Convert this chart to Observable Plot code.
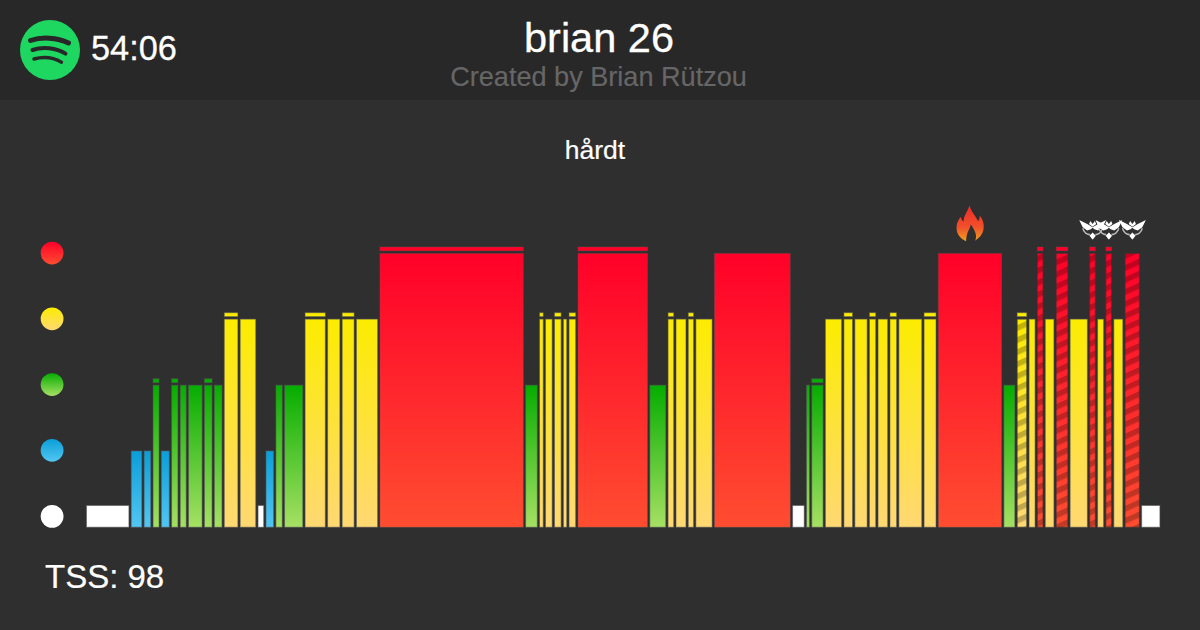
<!DOCTYPE html>
<html>
<head>
<meta charset="utf-8">
<script src="https://cdn.jsdelivr.net/npm/d3@7"></script>
<script src="https://cdn.jsdelivr.net/npm/@observablehq/plot@0.6"></script>
<style>
html,body{margin:0;padding:0;background:#2f2f2f;width:1200px;height:630px;overflow:hidden;font-family:"Liberation Sans",Arial,sans-serif;color:#fff}
#header{position:relative;height:100px;background:#282828;overflow:hidden}
#logo{position:absolute;left:20px;top:20px}
#time{position:absolute;left:91px;top:28px;font-size:34.3px;line-height:40px;-webkit-text-stroke:.3px #fff}
#title{position:absolute;left:0;width:1198px;text-align:center;top:14px;font-size:41.5px;line-height:48px;-webkit-text-stroke:.3px #fff}
#subtitle{position:absolute;left:0;width:1197px;text-align:center;top:61px;font-size:27.1px;line-height:32px;color:#666;-webkit-text-stroke:.2px #666}
#difficulty{height:100px;line-height:100px;text-align:center;font-size:26.5px;width:1190px;-webkit-text-stroke:.2px #fff}
#chart svg{display:block}
#tss{position:absolute;left:45px;top:558px;font-size:33px;line-height:38px;-webkit-text-stroke:.2px #fff}
</style>
</head>
<body>
<div id="header">
  <svg id="logo" width="60" height="60" viewBox="0 0 60 60">
    <circle cx="30" cy="30" r="30" fill="#1ed760"/>
    <g fill="none" stroke="#282828" stroke-linecap="round">
      <path d="M10.500 20.500C22 16.500 37 17.500 48.500 23" stroke-width="5"/>
      <path d="M12.500 30C23 26.500 36 27.800 45.500 33.600" stroke-width="4"/>
      <path d="M14 39C23 36.500 33.500 37.500 41.500 42.200" stroke-width="3.400"/>
    </g>
  </svg>
  <div id="time">54:06</div>
  <div id="title">brian 26</div>
  <div id="subtitle">Created by Brian Rützou</div>
</div>
<div id="difficulty">hårdt</div>
<div id="chart"></div>
<div id="tss">TSS: 98</div>
<script>
// Interval durations in seconds (54:06 in total)
const durations = [135,39,27,25,31,26,25,48,30,30,48,54,24,30,26,62,68,44,43,71,440,42,18,27,27,17,27,217,55,24,37,23,56,236,42,16,41,56,33,44,26,36,27,76,43,198,40,36,25,24,33,42,59,24,25,24,34,50,62];
// Training zone of each interval, 0 = white ... 4 = red
const zones = [0,1,1,2,1,2,2,2,2,2,3,3,0,1,2,2,3,3,3,3,4,2,3,3,3,3,3,4,2,3,3,3,3,4,0,2,2,3,3,3,3,3,3,3,3,4,2,3,3,4,3,4,3,4,3,4,3,4,0];
// Intervals with a marker cap
const capped = [3,5,8,10,16,18,20,22,24,26,27,29,31,36,38,40,42,44,47,49,51,53,55];
// Intervals with diagonal stripes
const striped = [47,49,51,53,55,57];
// Intervals with an icon above
const flames = [45];
const owls = [53,55,57];

const zoneNames = ["white","blue","green","yellow","red"];
const zoneTops = [0.345,1.175,2.175,3.18,4.18];
const zoneDots = [0.18,1.185,2.185,3.185,4.185];
const gradients = [["#ffffff","#ffffff"],["#0a9ed8","#52c6f2"],["#05ad00","#a6e063"],["#fcec00","#ffd873"],["#ff0029","#ff4d30"]];
const strokeOpacities = [0.55,0.55,0.55,0.55,0.35];

let clock = 0;
const bars = durations.map((d,i) => {
  const b = {i, start: clock, end: clock + d, zone: zones[i], top: zoneTops[zones[i]]};
  clock += d;
  return b;
});
const total = clock;
const capBars = capped.map(i => bars[i]);
const stripeBars = striped.map(i => bars[i]);
const mid = b => (b.start + b.end) / 2;

const flameSvg = `<svg xmlns="http://www.w3.org/2000/svg" viewBox="0 0 28 36"><defs><linearGradient id="f" x1="0" y1="0" x2="0" y2="1"><stop offset="0" stop-color="#ee2a2a"/><stop offset=".6" stop-color="#f0502a"/><stop offset="1" stop-color="#f0a020"/></linearGradient></defs><path fill="url(#f)" d="M13.500 0C15 7 20 11 22 16C23.500 14 23.800 12 23.500 10C27 14 28 19 27.500 23C27 30 22 33 19 35.500C21.500 31 19 25 14.500 19C14.500 24 10.500 25 10 36C5 33.500 1 30 .5 24C0 18 2.500 15 4.500 11.500C5 13.500 6 15.500 7.500 16.500C7.500 10 11.500 6.500 13.500 0Z"/></svg>`;
const owlSvg = `<svg xmlns="http://www.w3.org/2000/svg" viewBox="0 0 30 20" preserveAspectRatio="none"><g fill="#fff"><path d="M0 1L9 5L15 8L21 5L30 1L26 8L21 11L17 10L15 8.500L13 10L9 11L4 8Z"/><path d="M11 5L12.500 2L15 5L17.500 2L19 5L15 7.500Z"/><path d="M15 20L11.500 16L15 13L18.500 16Z"/></g><g fill="none" stroke="#bbb" stroke-width="1.500"><path d="M4 9C5 13 9 15 12 15"/><path d="M26 9C25 13 21 15 18 15"/></g></svg>`;
const uri = s => "data:image/svg+xml;charset=utf-8," + encodeURIComponent(s);

const defs = () => {
  const d = d3.create("svg:defs");
  gradients.forEach((g,i) => {
    const lg = d.append("linearGradient").attr("id","zone-"+i).attr("x1",0).attr("y1",0).attr("x2",0).attr("y2",1);
    lg.append("stop").attr("offset","0%").attr("stop-color",g[0]);
    lg.append("stop").attr("offset","100%").attr("stop-color",g[1]);
  });
  const p = d.append("pattern").attr("id","stripes").attr("patternUnits","userSpaceOnUse")
    .attr("width",24).attr("height",11).attr("patternTransform","rotate(-24)");
  p.append("rect").attr("width",24).attr("height",5.500).attr("fill","rgba(0,0,0,0.24)");
  return d.node();
};

const marks = [defs];
zoneNames.forEach((name,z) => {
  marks.push(Plot.rect(bars.filter(b => b.zone === z), {
    x1:"start", x2:"end", y1:0, y2:"top",
    fill:`url(#zone-${z})`, stroke:"#555", strokeOpacity:strokeOpacities[z], strokeWidth:1,
    insetLeft:1.5, insetRight:0.8, insetTop:0.5, insetBottom:0.5
  }));
  marks.push(Plot.rect(capBars.filter(b => b.zone === z), {
    x1:"start", x2:"end", y1:d => d.top + 0.03, y2:d => d.top + 0.09,
    fill:gradients[z][0], stroke:"#555", strokeOpacity:strokeOpacities[z], strokeWidth:1,
    insetLeft:1.5, insetRight:0.8
  }));
  marks.push(Plot.dot([z], {
    frameAnchor:"left", dx:51.6, y:d => zoneDots[d], r:11.4,
    fill:`url(#zone-${z})`, stroke:"none"
  }));
});
marks.push(Plot.rect(stripeBars, {
  x1:"start", x2:"end", y1:0, y2:"top", fill:"url(#stripes)",
  stroke:"#222", strokeOpacity:0.3, insetLeft:1.5, insetRight:0.8, insetTop:0.5, insetBottom:0.5
}));
marks.push(Plot.image(flames.map(i => bars[i]), {
  x:mid, y:"top", src:uri(flameSvg), width:28, height:36, dy:-30, preserveAspectRatio:"none"
}));
marks.push(Plot.image(owls.map(i => bars[i]), {
  x:mid, y:"top", src:uri(owlSvg), width:27, height:21, dy:-24, preserveAspectRatio:"none"
}));

const unit = 65.75, base = 327.7;
document.getElementById("chart").appendChild(Plot.plot({
  width:1200, height:340,
  margin:0,
  style:{background:"transparent",color:"#fff"},
  x:{domain:[0,total], range:[85,1160.7], axis:null},
  y:{domain:[0,5], range:[base, base - 5*unit], axis:null},
  marks
}));
</script>
</body>
</html>
